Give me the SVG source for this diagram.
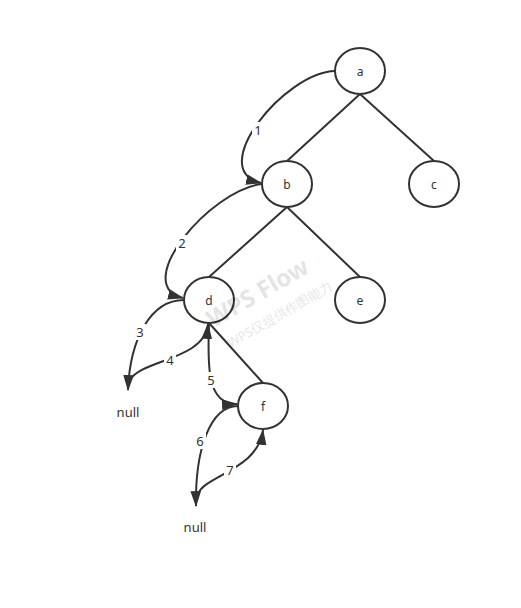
<svg xmlns="http://www.w3.org/2000/svg" width="521" height="608" viewBox="0 0 521 608">
<style>
.node ellipse{fill:#fff;stroke:#323232;stroke-width:2}
.t{font-family:"Noto Sans","Open Sans","DejaVu Sans",sans-serif;font-size:12px;fill:#323232;text-anchor:middle;dominant-baseline:central}
.edge{fill:none;stroke:#323232;stroke-width:2}
.lbl{font-family:"Noto Sans","Open Sans","DejaVu Sans",sans-serif;font-size:13px;fill:#323232;text-anchor:middle;dominant-baseline:central}
.lb{fill:#fff}
.wm{font-family:"Noto Sans","Open Sans",sans-serif;fill:#000;opacity:0.1;text-anchor:middle}
</style>
<defs>
<marker id="arr" markerUnits="userSpaceOnUse" markerWidth="16" markerHeight="12" refX="14" refY="5" orient="auto" viewBox="0 0 15 10">
<path d="M0,0 L15,5 L0,10 z" fill="#323232"/>
</marker>
</defs>
<rect width="521" height="608" fill="#fff"/>
<g id="connectors">
<line class="edge" x1="360" y1="94" x2="287" y2="161"/>
<line class="edge" x1="360" y1="94" x2="434" y2="161"/>
<line class="edge" x1="287" y1="207" x2="209" y2="277"/>
<line class="edge" x1="287" y1="207" x2="360" y2="277"/>
<line class="edge" x1="209" y1="323" x2="263" y2="383"/>
<path class="edge" d="M335,71 C285,72 205,170 261,183" marker-end="url(#arr)"/>
<path class="edge" d="M262,184 C210,190 130,285 183,298" marker-end="url(#arr)"/>
<path class="edge" d="M184,300 C150,300 130,340 128,390" marker-end="url(#arr)"/>
<path class="edge" d="M130,380 C140,360 205,360 208,324" marker-end="url(#arr)"/>
<path class="edge" d="M209,324 C208,360 205,405 237,404" marker-end="url(#arr)"/>
<path class="edge" d="M238,406 C210,406 195,450 196,506" marker-end="url(#arr)"/>
<path class="edge" d="M198,494 C205,475 258,470 263,430" marker-end="url(#arr)"/>
<rect class="lb" x="252" y="122" width="12" height="16"/><text class="lbl" x="258" y="130">1</text>
<rect class="lb" x="176" y="235" width="12" height="16"/><text class="lbl" x="182" y="243">2</text>
<rect class="lb" x="134" y="324" width="12" height="16"/><text class="lbl" x="140" y="332">3</text>
<rect class="lb" x="164" y="352" width="12" height="16"/><text class="lbl" x="170" y="360">4</text>
<rect class="lb" x="205" y="372" width="12" height="16"/><text class="lbl" x="211" y="380">5</text>
<rect class="lb" x="194" y="433" width="12" height="16"/><text class="lbl" x="200" y="441">6</text>
<rect class="lb" x="224" y="462" width="12" height="16"/><text class="lbl" x="230" y="470">7</text>
</g>
<g id="node-a" class="node"><ellipse cx="360" cy="71" rx="25" ry="23"/><text class="t" x="360" y="71">a</text></g>
<g id="node-b" class="node"><ellipse cx="287" cy="184" rx="25" ry="23"/><text class="t" x="287" y="184">b</text></g>
<g id="node-c" class="node"><ellipse cx="434" cy="184" rx="25" ry="23"/><text class="t" x="434" y="184">c</text></g>
<g id="node-d" class="node"><ellipse cx="209" cy="300" rx="25" ry="23"/><text class="t" x="209" y="300">d</text></g>
<g id="node-e" class="node"><ellipse cx="360" cy="300" rx="25" ry="23"/><text class="t" x="360" y="300">e</text></g>
<g id="node-f" class="node"><ellipse cx="263" cy="406" rx="25" ry="23"/><text class="t" x="263" y="406">f</text></g>
<g id="null-1"><text class="lbl" x="128" y="412">null</text></g>
<g id="null-2"><text class="lbl" x="195" y="527">null</text></g>
<g id="watermark" transform="translate(262,300) rotate(-30)">
<text class="wm" x="0" y="0" font-size="24" font-weight="bold">WPS Flow</text>
<text class="wm" x="8" y="26" font-size="13" font-family="'Noto Sans CJK SC',sans-serif">WPS仅提供作图能力</text>
</g>
</svg>
